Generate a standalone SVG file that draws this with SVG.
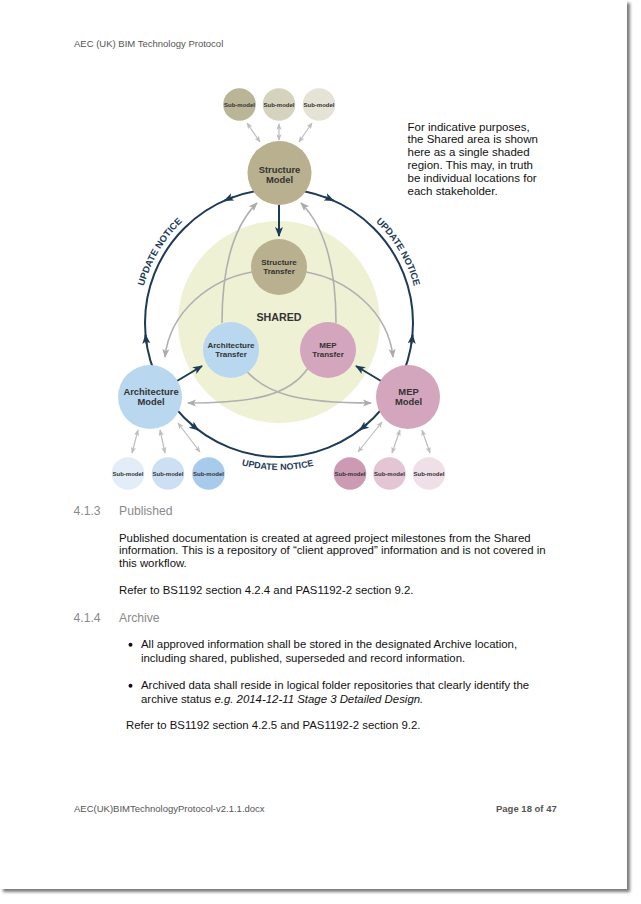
<svg xmlns="http://www.w3.org/2000/svg" width="641" height="904" viewBox="0 0 641 904">
<style>
text{font-family:"Liberation Sans",Arial,sans-serif}
.lbl{font-weight:bold;fill:#333;text-anchor:middle}
.big{font-size:9.4px}
.tr{font-size:8px}
.sm{font-size:6px}
.un{font-weight:bold;fill:#1d3a56;font-size:9.4px}
.body{font-size:11.4px;fill:#111}
.note{font-size:11.5px;fill:#111}
.hd{font-size:12.2px;fill:#8a8a8a}
.hf{font-size:9.5px;fill:#555}
.ring{fill:none;stroke:#1d3a56;stroke-width:2}
.nav{fill:none;stroke:#1d3a56;stroke-width:2;marker-end:url(#an)}
.gry{fill:none;stroke:#b0b0b0;stroke-width:1.6;marker-end:url(#ag)}
.sub{fill:none;stroke:#bdbdbd;stroke-width:1.2;marker-start:url(#as);marker-end:url(#as)}
</style>
<defs>
<filter id="blur" x="-5%" y="-5%" width="110%" height="110%"><feGaussianBlur stdDeviation="1.6"/></filter>
<marker id="an" viewBox="0 0 10 10" refX="9" refY="5" markerWidth="10" markerHeight="10" markerUnits="userSpaceOnUse" orient="auto"><path d="M0,1 L10,5 L0,9 L2.5,5 z" fill="#1d3a56"/></marker>
<marker id="ag" viewBox="0 0 10 10" refX="9" refY="5" markerWidth="9" markerHeight="9" markerUnits="userSpaceOnUse" orient="auto"><path d="M0,1 L10,5 L0,9 L2.5,5 z" fill="#ababab"/></marker>
<marker id="as" viewBox="0 0 10 10" refX="9" refY="5" markerWidth="6.5" markerHeight="6.5" markerUnits="userSpaceOnUse" orient="auto-start-reverse"><path d="M0,1 L10,5 L0,9 L2.5,5 z" fill="#bdbdbd"/></marker>
<path id="tpL" d="M139.01,321.05 A140,140 0 0 1 210.70,200.79"/>
<path id="tpR" d="M347.30,200.79 A140,140 0 0 1 418.99,321.05"/>
<path id="tpB" d="M204.39,449.66 A147,147 0 0 0 351.39,450.94"/>
</defs>

<rect x="0" y="0" width="641" height="904" fill="#fff"/>
<rect x="3" y="3" width="627" height="889" fill="#7a7a7a" filter="url(#blur)"/>
<rect x="0" y="0" width="627" height="889" fill="#fff"/>

<g id="header">
<text class="hf" x="74" y="46.5">AEC (UK) BIM Technology Protocol</text>
</g>

<g id="shared">
<circle cx="279" cy="322" r="101" fill="#eef1d4"/>
<text class="lbl" x="279" y="321" style="font-size:10.7px">SHARED</text>
</g>

<g id="connectors">
<circle class="ring" cx="279" cy="323" r="134"/>
<path class="nav" d="M146.65,343.96 A134,134 0 0 1 145.51,334.68"/>
<path class="nav" d="M233.17,197.08 A134,134 0 0 0 224.50,200.58"/>
<path class="nav" d="M324.83,197.08 A134,134 0 0 1 333.50,200.58"/>
<path class="nav" d="M411.35,343.96 A134,134 0 0 0 412.49,334.68"/>
<path class="nav" d="M191.09,424.13 A134,134 0 0 0 198.36,430.02"/>
<path class="nav" d="M366.91,424.13 A134,134 0 0 1 359.64,430.02"/>
<line class="nav" x1="279" y1="205" x2="279" y2="236"/>
<line class="nav" x1="177" y1="381" x2="202" y2="366"/>
<line class="nav" x1="381" y1="381" x2="356" y2="366"/>
<path class="gry" d="M222,323 C222,270 232,228 257,203"/>
<path class="gry" d="M336,323 C336,270 326,228 301,203"/>
<path class="gry" d="M252,272 C212,279 170,310 165,357"/>
<path class="gry" d="M306,272 C346,279 388,310 393,357"/>
<path class="gry" d="M243,367 C265,395 300,403 371,403"/>
<path class="gry" d="M308,368 C290,395 255,403 188,403"/>
<line class="sub" x1="247" y1="123" x2="260" y2="142"/>
<line class="sub" x1="279" y1="124" x2="279" y2="140"/>
<line class="sub" x1="312" y1="123" x2="299" y2="142"/>
<line class="sub" x1="138" y1="430" x2="132" y2="453"/>
<line class="sub" x1="160" y1="430" x2="165" y2="453"/>
<line class="sub" x1="178" y1="423" x2="200" y2="452"/>
<line class="sub" x1="382" y1="422" x2="358" y2="452"/>
<line class="sub" x1="400" y1="430" x2="392" y2="453"/>
<line class="sub" x1="422" y1="430" x2="430" y2="453"/>
<text class="un"><textPath href="#tpL" startOffset="50%" text-anchor="middle">UPDATE NOTICE</textPath></text>
<text class="un"><textPath href="#tpR" startOffset="50%" text-anchor="middle">UPDATE NOTICE</textPath></text>
<text class="un" style="font-size:9px"><textPath href="#tpB" startOffset="50%" text-anchor="middle">UPDATE NOTICE</textPath></text>
</g>

<g id="structure-sub-1"><circle cx="239.5" cy="104.5" r="16.3" fill="#bab596"/><text class="lbl sm" x="239.5" y="106.8">Sub-model</text></g>
<g id="structure-sub-2"><circle cx="279" cy="104.5" r="16.3" fill="#d5d2bd"/><text class="lbl sm" x="279" y="106.8">Sub-model</text></g>
<g id="structure-sub-3"><circle cx="319" cy="104.5" r="16.3" fill="#e5e3d5"/><text class="lbl sm" x="319" y="106.8">Sub-model</text></g>

<g id="structure-model"><circle cx="279.5" cy="173" r="32" fill="#b8b08e"/><text class="lbl big" x="279.5" y="172.7">Structure</text><text class="lbl big" x="279.5" y="182.9">Model</text></g>
<g id="structure-transfer"><circle cx="279" cy="267" r="28" fill="#b8b08e"/><text class="lbl tr" x="279" y="265">Structure</text><text class="lbl tr" x="279" y="274">Transfer</text></g>
<g id="architecture-transfer"><circle cx="231" cy="350" r="28" fill="#b9d8f0"/><text class="lbl tr" x="231" y="348.3">Architecture</text><text class="lbl tr" x="231" y="357.3">Transfer</text></g>
<g id="mep-transfer"><circle cx="328" cy="350" r="28" fill="#d4a6bd"/><text class="lbl tr" x="328" y="348.3">MEP</text><text class="lbl tr" x="328" y="357.3">Transfer</text></g>
<g id="architecture-model"><circle cx="150" cy="397" r="32" fill="#b9d8f0"/><text class="lbl big" x="151" y="395">Architecture</text><text class="lbl big" x="151" y="405">Model</text></g>
<g id="mep-model"><circle cx="408" cy="397" r="32" fill="#d4a6bd"/><text class="lbl big" x="408.5" y="394.5">MEP</text><text class="lbl big" x="408.5" y="404.7">Model</text></g>

<g id="architecture-sub-1"><circle cx="128" cy="473.5" r="16.3" fill="#e2edf8"/><text class="lbl sm" x="128" y="475.8">Sub-model</text></g>
<g id="architecture-sub-2"><circle cx="168" cy="473.5" r="16.3" fill="#cde0f3"/><text class="lbl sm" x="168" y="475.8">Sub-model</text></g>
<g id="architecture-sub-3"><circle cx="208.5" cy="473.5" r="16.3" fill="#a8cbeb"/><text class="lbl sm" x="208.5" y="475.8">Sub-model</text></g>
<g id="mep-sub-1"><circle cx="350" cy="473.5" r="16.3" fill="#cc9ab2"/><text class="lbl sm" x="350" y="475.8">Sub-model</text></g>
<g id="mep-sub-2"><circle cx="389.5" cy="473.5" r="16.3" fill="#e3c5d3"/><text class="lbl sm" x="389.5" y="475.8">Sub-model</text></g>
<g id="mep-sub-3"><circle cx="429" cy="473.5" r="16.3" fill="#efdfe7"/><text class="lbl sm" x="429" y="475.8">Sub-model</text></g>

<g id="note">
<text class="note" x="407.5" y="130.5">For indicative purposes,</text>
<text class="note" x="407.5" y="143.4">the Shared area is shown</text>
<text class="note" x="407.5" y="156.3">here as a single shaded</text>
<text class="note" x="407.5" y="169.2">region. This may, in truth</text>
<text class="note" x="407.5" y="182.1">be individual locations for</text>
<text class="note" x="407.5" y="195">each stakeholder.</text>
</g>

<g id="section-413">
<text class="hd" x="73.5" y="515">4.1.3</text>
<text class="hd" x="119" y="515">Published</text>
<text class="body" x="119" y="541.7">Published documentation is created at agreed project milestones from the Shared</text>
<text class="body" x="119" y="554.2">information. This is a repository of “client approved” information and is not covered in</text>
<text class="body" x="119" y="566.7">this workflow.</text>
<text class="body" x="119" y="594">Refer to BS1192 section 4.2.4 and PAS1192-2 section 9.2.</text>
</g>

<g id="section-414">
<text class="hd" x="73.5" y="621.5">4.1.4</text>
<text class="hd" x="119" y="621.5">Archive</text>
<circle cx="130.5" cy="644.8" r="2" fill="#111"/>
<text class="body" x="141" y="648.3">All approved information shall be stored in the designated Archive location,</text>
<text class="body" x="141" y="662.3">including shared, published, superseded and record information.</text>
<circle cx="130.5" cy="685.8" r="2" fill="#111"/>
<text class="body" x="141" y="689.3">Archived data shall reside in logical folder repositories that clearly identify the</text>
<text class="body" x="141" y="702.7">archive status <tspan font-style="italic">e.g. 2014-12-11 Stage 3 Detailed Design.</tspan></text>
<text class="body" x="126" y="729.3">Refer to BS1192 section 4.2.5 and PAS1192-2 section 9.2.</text>
</g>

<g id="footer">
<text class="hf" x="74" y="812">AEC(UK)BIMTechnologyProtocol-v2.1.1.docx</text>
<text class="hf" x="496" y="812" font-weight="bold">Page 18 of 47</text>
</g>
</svg>
